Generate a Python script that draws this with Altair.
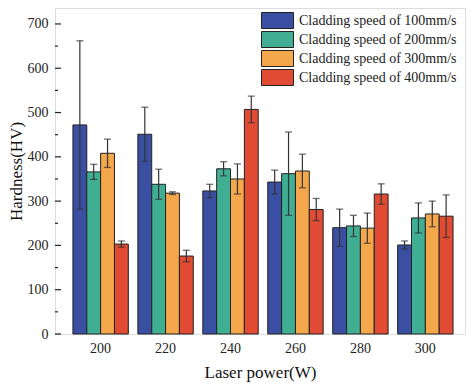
import altair as alt
import pandas as pd

groups = ["200", "220", "240", "260", "280", "300"]
series = ["Cladding speed of 100mm/s", "Cladding speed of 200mm/s",
          "Cladding speed of 300mm/s", "Cladding speed of 400mm/s"]
colors = ["#3a4fa2", "#3fae92", "#f5a74b", "#e14b34"]

s100 = [472, 451, 323, 343, 240, 201]
e100 = [190, 61, 15, 27, 42, 9]
s200 = [366, 338, 373, 362, 244, 262]
e200 = [17, 34, 16, 94, 24, 34]
s300 = [408, 318, 350, 368, 239, 271]
e300 = [32, 3, 34, 38, 34, 29]
s400 = [203, 176, 507, 281, 316, 266]
e400 = [7, 13, 30, 25, 23, 48]

major_ticks = [0, 100, 200, 300, 400, 500, 600, 700]
minor_ticks = [50, 150, 250, 350, 450, 550, 650]

rows = []
for name, vals, errs in zip(series, [s100, s200, s300, s400], [e100, e200, e300, e400]):
    for g, v, e in zip(groups, vals, errs):
        rows.append(dict(power=g, series=name, hv=v, lo=v - e, hi=v + e))
df = pd.DataFrame(rows)

FONT = "Liberation Serif, Times New Roman, DejaVu Serif, serif"

xscale = alt.Scale(paddingInner=0.147, paddingOuter=0.23, align=0.6)
xaxis = alt.Axis(title="Laser power(W)", labelAngle=0, ticks=False, tickSize=0,
                 domain=False, labelPadding=7, titlePadding=9,
                 labelFontSize=14, titleFontSize=17, labelFont=FONT, titleFont=FONT,
                 labelColor="#222", titleColor="#111", titleFontWeight="normal")
yscale = alt.Scale(domain=[0, 736], nice=False)
yaxis = alt.Axis(title="Hardness(HV)", values=major_ticks, ticks=False, tickSize=0,
                 domain=False, grid=False, labelPadding=7, titlePadding=2,
                 labelFontSize=14, titleFontSize=17, labelFont=FONT, titleFont=FONT,
                 labelColor="#222", titleColor="#111", titleFontWeight="normal")

X = alt.X("power:N", sort=groups, scale=xscale, axis=xaxis)
XO = alt.XOffset("series:N", sort=series, scale=alt.Scale(paddingInner=0, paddingOuter=0))

legend = alt.Legend(
    title=None, orient="none", legendX=206, legendY=4, padding=0,
    symbolType="M-1,-1H3V1H-1Z", symbolSize=256, symbolStrokeColor="#222",
    symbolStrokeWidth=1, symbolOpacity=1, labelFont=FONT, labelFontSize=14,
    labelColor="#222", labelOffset=21, labelLimit=0, rowPadding=-3.4,
)

bars = alt.Chart(df).mark_bar(stroke="#222", strokeWidth=1).encode(
    x=X, xOffset=XO,
    y=alt.Y("hv:Q", scale=yscale, axis=yaxis),
    fill=alt.Fill("series:N", sort=series,
                  scale=alt.Scale(domain=series, range=colors), legend=legend),
)

rules = alt.Chart(df).mark_rule(color="#333", strokeWidth=1.2).encode(
    x=X, xOffset=XO,
    y=alt.Y("lo:Q", scale=yscale, axis=yaxis), y2="hi:Q",
)
caps_hi = alt.Chart(df).mark_tick(color="#333", thickness=1.3, size=7).encode(
    x=X, xOffset=XO, y=alt.Y("hi:Q", scale=yscale, axis=yaxis),
)
caps_lo = alt.Chart(df).mark_tick(color="#333", thickness=1.3, size=7).encode(
    x=X, xOffset=XO, y=alt.Y("lo:Q", scale=yscale, axis=yaxis),
)

tmaj = alt.Chart(pd.DataFrame({"v": major_ticks})).mark_rule(color="#222", strokeWidth=1.2).encode(
    y=alt.Y("v:Q", scale=yscale, axis=yaxis), x=alt.value(0), x2=alt.value(6),
)
tmin = alt.Chart(pd.DataFrame({"v": minor_ticks})).mark_rule(color="#222", strokeWidth=1.2).encode(
    y=alt.Y("v:Q", scale=yscale, axis=yaxis), x=alt.value(0), x2=alt.value(3),
)

chart = alt.layer(bars, rules, caps_hi, caps_lo, tmaj, tmin).properties(
    width=410, height=326,
    autosize=alt.AutoSizeParams(type="none"),
    padding={"left": 47, "top": 0, "right": 1, "bottom": 50},
).configure_view(stroke="#222", strokeWidth=1.5).configure(background="white")

chart.save("out.html", embed_options={"renderer": "svg", "actions": False})
